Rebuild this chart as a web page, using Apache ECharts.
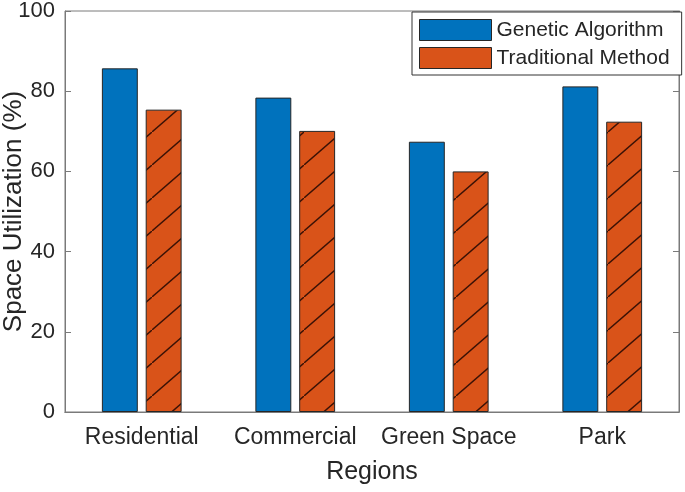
<!DOCTYPE html>
<html>
<head>
<meta charset="utf-8">
<script src="https://cdn.jsdelivr.net/npm/echarts@6/dist/echarts.min.js"></script>
<style>
  html, body { margin: 0; padding: 0; background: #fff; }
  #chart { width: 685px; height: 492px; }
</style>
</head>
<body>
<div id="chart"></div>
<script>
const regions = ['Residential', 'Commercial', 'Green Space', 'Park'];
const geneticValues = [85.7, 78.4, 67.4, 81.2];
const traditionalValues = [75.4, 70.1, 60.0, 72.4];
const yTicks = [0, 20, 40, 60, 80, 100];

const FONT = '"Liberation Sans", Arial, Helvetica, sans-serif';
const TEXT = '#262626';
const AXIS = '#7a7a7a';
const BLUE = '#0072BD';
const ORANGE = '#D95319';

// diagonal hatch for the traditional bars
function hatch() {
  const w = 38, h = 33;
  const c = document.createElement('canvas');
  c.width = w; c.height = h;
  const ctx = c.getContext('2d');
  ctx.fillStyle = ORANGE;
  ctx.fillRect(0, 0, w, h);
  ctx.strokeStyle = '#3a1206';
  ctx.lineWidth = 1.4;
  ctx.beginPath();
  ctx.moveTo(-w, 2 * h); ctx.lineTo(2 * w, -h);
  ctx.stroke();
  return c;
}

const chart = echarts.init(document.getElementById('chart'), null, { renderer: 'canvas' });

const catAxisBase = {
  type: 'category',
  data: regions,
  axisLine: { lineStyle: { color: AXIS, width: 1 } },
  axisTick: { inside: true, alignWithLabel: true, length: 5, lineStyle: { color: AXIS } },
  splitLine: { show: false }
};
const valAxisBase = {
  type: 'value',
  min: yTicks[0],
  max: yTicks[yTicks.length - 1],
  interval: 20,
  axisLine: { show: true, lineStyle: { color: AXIS, width: 1 } },
  axisTick: { show: true, inside: true, length: 6, lineStyle: { color: AXIS } },
  splitLine: { show: false }
};

chart.setOption({
  backgroundColor: '#fff',
  animation: false,
  textStyle: { fontFamily: FONT },
  grid: {
    left: 65, right: 6, top: 11, bottom: 80,
    outerBoundsMode: 'none',
    containLabel: false,
    show: true, borderColor: AXIS, borderWidth: 1
  },
  legend: {
    left: 412,
    top: 12,
    orient: 'vertical',
    icon: 'rect',
    itemWidth: 72,
    itemHeight: 21,
    itemGap: 6,
    padding: [7, 12, 6, 7],
    backgroundColor: '#fff',
    borderColor: '#333',
    borderWidth: 1,
    textStyle: { fontSize: 21, color: TEXT, fontFamily: FONT },
    data: [
      { name: 'Genetic Algorithm', itemStyle: { color: BLUE, borderColor: '#262626', borderWidth: 1 } },
      { name: 'Traditional Method', itemStyle: { color: ORANGE, borderColor: '#262626', borderWidth: 1 } }
    ]
  },
  xAxis: [
    Object.assign({}, catAxisBase, {
      position: 'bottom',
      name: 'Regions',
      nameLocation: 'middle',
      nameGap: 48,
      nameMoveOverlap: false,
      nameTextStyle: { fontSize: 25, color: TEXT, fontFamily: FONT },
      axisLabel: { fontSize: 23, color: TEXT, margin: 14, fontFamily: FONT, interval: 0 }
    }),
    Object.assign({}, catAxisBase, { position: 'top', axisLabel: { show: false } })
  ],
  yAxis: [
    Object.assign({}, valAxisBase, {
      position: 'left',
      name: 'Space Utilization (%)',
      nameLocation: 'middle',
      nameGap: 38,
      nameMoveOverlap: false,
      nameTextStyle: { fontSize: 26, color: TEXT, fontFamily: FONT },
      axisLabel: { fontSize: 22, color: TEXT, margin: 10, fontFamily: FONT }
    }),
    Object.assign({}, valAxisBase, { position: 'right', axisLabel: { show: false } })
  ],
  series: [
    {
      name: 'Genetic Algorithm',
      type: 'bar',
      data: geneticValues,
      barWidth: '23.4%',
      barGap: '22%',
      itemStyle: { color: BLUE, borderColor: '#262626', borderWidth: 1 }
    },
    {
      name: 'Traditional Method',
      type: 'bar',
      data: traditionalValues,
      barWidth: '23.4%',
      itemStyle: {
        color: { image: hatch(), repeat: 'repeat' },
        borderColor: '#262626',
        borderWidth: 1
      }
    }
  ]
});
</script>
</body>
</html>
